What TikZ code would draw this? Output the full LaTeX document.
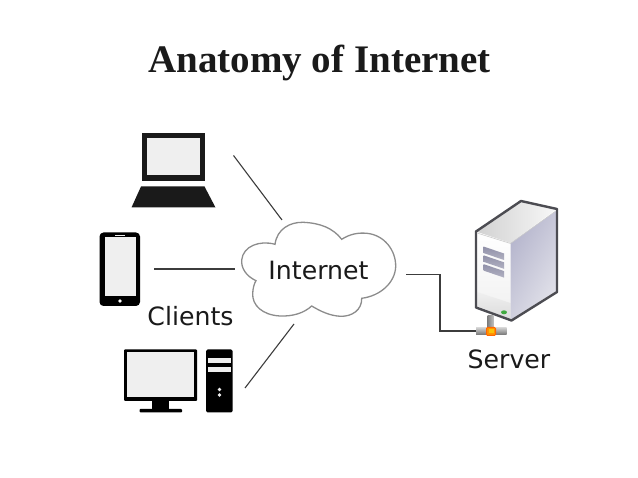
\documentclass[tikz,border=0pt]{standalone}
\usepackage{fontspec}
\setmainfont{DejaVu Sans}
\newfontfamily\titlefont{Liberation Serif}
\definecolor{ink}{HTML}{1A1A1A}
\definecolor{scr}{HTML}{EFEFEF}
\definecolor{cloudline}{HTML}{8C8C8C}
\definecolor{srvedge}{HTML}{4C4C52}
\definecolor{lilac}{HTML}{B4B4CC}
\definecolor{lilacl}{HTML}{E2E2EA}
\definecolor{louver}{HTML}{9090A8}
\tikzset{
  lbl/.style={inner sep=0pt,text=ink,font=\fontsize{25.2}{30}\selectfont},
  wire/.style={draw=ink!85,line width=1.1pt},
  icon/.style={fill=ink,draw=none},
  screenpart/.style={fill=scr,draw=none},
  blk/.style={fill=black,draw=none}
}
\begin{document}
\begin{tikzpicture}[x=1pt,y=-1pt]
\useasboundingbox (0,0) rectangle (638,478);
\node[inner sep=0pt,font=\titlefont\bfseries\fontsize{39}{44}\selectfont,text=ink] (title) at (319.5,63) {Anatomy of Internet};

% laptop
\path[icon] (141.5,133.5) rectangle (205,181);
\path[screenpart] (147,138.5) rectangle (200,175.5);
\path[icon] (141,186.5) -- (204.5,186.5) -- (215.5,207.5) -- (131.5,207.5) -- cycle;

% phone
\path[blk,rounded corners=4pt] (99.5,232.5) rectangle (140,306);
\path[screenpart] (104.5,237.5) rectangle (135.5,296);
\path[fill=white] (120,301) circle (1.8);
\draw[scr,line width=0.5pt] (115,235) -- (125,235);

% desktop
\path[blk,rounded corners=1pt] (124,349.5) rectangle (197,401);
\path[screenpart] (127,352.5) rectangle (194,397);
\path[blk] (152,400) rectangle (169,410);
\path[blk,rounded corners=1pt] (139.5,409) rectangle (182,412.5);
\path[blk,rounded corners=1.5pt] (206,349.5) rectangle (232.5,412.5);
\path[fill=scr] (208,358.5) rectangle (230.5,363);
\path[fill=scr] (208,367.5) rectangle (230.5,372);
\path[fill=scr] (219.5,389.5) circle (1.8);
\path[fill=scr] (219.5,395) circle (1.8);

% cloud
\draw[cloudline,line width=1.3pt,fill=white]
  (275,244.3) .. controls (277,229) and (290,222) .. (303,222.3)
  .. controls (320,223) and (333,228) .. (341.7,239.3)
  .. controls (350,234) and (358,232.5) .. (367,233.3)
  .. controls (384,235) and (396,250) .. (395.7,266.7)
  .. controls (395,283) and (380,296) .. (361.7,298.3)
  .. controls (362,310) and (352,316.5) .. (341,316.3)
  .. controls (330,316) and (320,311) .. (311.7,306)
  .. controls (304,313) and (293,316.5) .. (280,316)
  .. controls (262,315) and (252,305) .. (252.7,293.3)
  .. controls (253,288) and (254,284) .. (256,280.7)
  .. controls (246,276) and (241,268) .. (241.7,260)
  .. controls (243,246) and (260,240) .. (275,244.3) -- cycle;
\node[lbl] (internet) at (318.5,270) {Internet};
\node[lbl] (clients) at (190.5,316) {Clients};
\node[lbl] (serverlabel) at (509,359.5) {Server};

% server
\path[top color=white,bottom color=black!6] (476,232) -- (510.5,243) -- (510.5,320) -- (476,307) -- cycle;
\path[top color=black!6,bottom color=black!14] (477,292) -- (510.5,303) -- (510.5,319) -- (477,306) -- cycle;
\path[left color=lilac,right color=lilacl,shading angle=60] (510.5,243) -- (556,211) -- (556,291) -- (510.5,320) -- cycle;
\path[left color=black!18,right color=black!3] (476,231.5) -- (521,201) -- (556,209.5) -- (510.5,243) -- cycle;
\draw[srvedge,line width=2.4pt,line join=round] (476,231.5) -- (521,201) -- (557,209) -- (557,292) -- (511.5,320.5) -- (476,307.5) -- cycle;
\draw[black!20,line width=0.6pt] (477,233) -- (510.5,243.5) -- (555,211.5);
\foreach \k in {0,1,2}{
  \path[top color=louver,bottom color=louver!70] (483.5,246.5+8.8*\k) -- (504,253.5+8.8*\k) -- (504,260+8.8*\k) -- (483.5,253+8.8*\k) -- cycle;
}
\path[fill=green!55!black!75] (504,312.3) circle (3 and 2);

% network tee
\path[left color=black!50,right color=black!25] (487.5,316) rectangle (493.5,329);
\path[top color=black!20,bottom color=black!55] (476,328) rectangle (506.5,335);
\path[fill=orange!85!yellow,draw=orange!80!red,line width=1pt,rounded corners=1pt] (486.5,327.5) rectangle (495.5,335.5);
\path[fill=yellow!55!orange] (488.5,329.5) rectangle (493.5,333.5);

% connectors
\coordinate (lapA) at (233.5,155.5);
\coordinate (lapB) at (282,220);
\coordinate (phA) at (154,269);
\coordinate (phB) at (235,269);
\coordinate (pcA) at (245,388);
\coordinate (pcB) at (294,324);
\coordinate (svA) at (406,274.5);
\coordinate (svB) at (476,331);
\draw[wire] (lapA) -- (lapB);
\draw[wire] (phA) -- (phB);
\draw[wire] (pcA) -- (pcB);
\draw[wire] (svA) -- (440,274.5) -- (440,331) -- (svB);
\end{tikzpicture}
\end{document}
